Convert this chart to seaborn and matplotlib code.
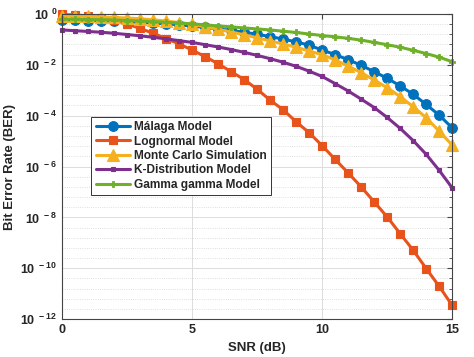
import numpy as np
import pandas as pd
import matplotlib
matplotlib.use("Agg")
import matplotlib.pyplot as plt
import seaborn as sns
from matplotlib.ticker import FixedLocator, NullFormatter

snr = np.arange(0, 15.01, 0.5)

# log10(BER)
malaga_log = [-0.24, -0.25, -0.26, -0.27, -0.29, -0.31, -0.33, -0.36, -0.39, -0.43,
              -0.48, -0.53, -0.59, -0.65, -0.72, -0.80, -0.89, -0.99, -1.10, -1.23,
              -1.42, -1.60, -1.80, -2.02, -2.27, -2.53, -2.83, -3.16, -3.56, -3.98, -4.48]
lognormal_log = [-0.02, -0.04, -0.08, -0.15, -0.25, -0.40, -0.57, -0.76, -0.97, -1.18,
                 -1.42, -1.68, -1.96, -2.27, -2.58, -2.96, -3.39, -3.77, -4.24, -4.67,
                 -5.18, -5.72, -6.25, -6.80, -7.39, -7.98, -8.64, -9.29, -10.01, -10.71, -11.46]
montecarlo_log = [-0.08, -0.09, -0.10, -0.12, -0.14, -0.16, -0.19, -0.23, -0.28, -0.34,
                  -0.41, -0.50, -0.60, -0.71, -0.82, -0.94, -1.06, -1.18, -1.31, -1.46,
                  -1.60, -1.81, -2.05, -2.31, -2.60, -2.90, -3.25, -3.65, -4.08, -4.61, -5.16]
kdist_log = [-0.63, -0.66, -0.69, -0.72, -0.76, -0.81, -0.86, -0.92, -0.98, -1.05,
             -1.12, -1.21, -1.30, -1.40, -1.51, -1.63, -1.76, -1.90, -2.06, -2.25,
             -2.46, -2.74, -3.03, -3.35, -3.68, -4.07, -4.50, -4.98, -5.52, -6.15, -6.84]
gamma_log = [-0.20, -0.21, -0.22, -0.23, -0.24, -0.26, -0.28, -0.30, -0.33, -0.36,
             -0.39, -0.43, -0.47, -0.51, -0.55, -0.59, -0.63, -0.68, -0.73, -0.79,
             -0.85, -0.90, -0.96, -1.03, -1.12, -1.21, -1.31, -1.43, -1.56, -1.70, -1.88]

series_names = ["Málaga Model", "Lognormal Model", "Monte Carlo Simulation",
                "K-Distribution Model", "Gamma gamma Model"]
series_logs = [malaga_log, lognormal_log, montecarlo_log, kdist_log, gamma_log]

x_ticks = [0, 5, 10, 15]
y_major_exp = [0, -2, -4, -6, -8, -10, -12]

sns.set_style("white")
plt.rcParams["font.family"] = ["Liberation Sans", "DejaVu Sans"]
plt.rcParams["font.weight"] = "bold"
plt.rcParams["mathtext.fontset"] = "custom"
plt.rcParams["mathtext.rm"] = "Liberation Sans:bold"
plt.rcParams["mathtext.bf"] = "Liberation Sans:bold"
plt.rcParams["mathtext.default"] = "rm"

fig = plt.figure(figsize=(4.74, 3.57), dpi=100)
ax = fig.add_axes([0.131, 0.106, 0.823, 0.855])

styles = {
    "Málaga Model": dict(color="#0072BD", marker="o", ms=7, mew=0.8),
    "Lognormal Model": dict(color="#E8531B", marker="s", ms=5.5, mew=0.8),
    "Monte Carlo Simulation": dict(color="#F5B020", marker="^", ms=8, mew=0.8),
    "K-Distribution Model": dict(color="#7E2F8E", marker="s", ms=3, mew=0.8),
    "Gamma gamma Model": dict(color="#6FB02A", marker="P", ms=5, mew=0.6),
}

for name, logs in zip(series_names, series_logs):
    df = pd.DataFrame({"SNR": snr, "BER": 10.0 ** np.array(logs)})
    st = styles[name]
    sns.lineplot(data=df, x="SNR", y="BER", ax=ax, color=st["color"], lw=2.2,
                 marker=st["marker"], markersize=st["ms"], markeredgecolor=st["color"],
                 markeredgewidth=st["mew"], label=name, clip_on=False)

ax.set_yscale("log")
ax.set_xlim(0, 15)
ax.set_ylim(1e-12, 1)
ax.set_xticks(x_ticks)
ax.set_xticklabels([str(t) for t in x_ticks], fontsize=9, fontweight="bold")
ax.yaxis.set_major_locator(FixedLocator([10.0 ** e for e in y_major_exp]))
ax.set_yticklabels([r"$10^{\ %d}$" % e for e in y_major_exp], fontsize=9)
minor = []
for e in y_major_exp[:-1]:
    for k in (0.4, 0.8, 1.2, 1.6):
        minor.append(10.0 ** (e - k))
ax.yaxis.set_minor_locator(FixedLocator(minor))
ax.yaxis.set_minor_formatter(NullFormatter())

ax.grid(which="major", color="#dcdcdc", lw=0.7, ls="-")
ax.grid(which="minor", axis="y", color="#d5d5d5", lw=0.6, ls=":")
ax.set_axisbelow(True)
ax.tick_params(which="both", direction="in", top=True, right=True, color="#444444",
               labelsize=9)
ax.tick_params(which="major", length=3.5)
ax.tick_params(which="minor", length=2)
for s in ax.spines.values():
    s.set_color("#444444")
    s.set_linewidth(0.8)

ax.set_xlabel("SNR (dB)", fontsize=9.5, fontweight="bold", labelpad=4)
ax.set_ylabel("Bit Error Rate (BER)", fontsize=9.5, fontweight="bold", labelpad=3)

leg = ax.legend(loc="upper left", bbox_to_anchor=(0.075, 0.662), fancybox=False,
                framealpha=1, edgecolor="#333333", borderpad=0.35,
                labelspacing=0.2, handlelength=2.9, handletextpad=0.3,
                borderaxespad=0, prop={"weight": "bold", "size": 8.6})
leg.get_frame().set_linewidth(0.7)

fig.savefig("out.png", dpi=100)
